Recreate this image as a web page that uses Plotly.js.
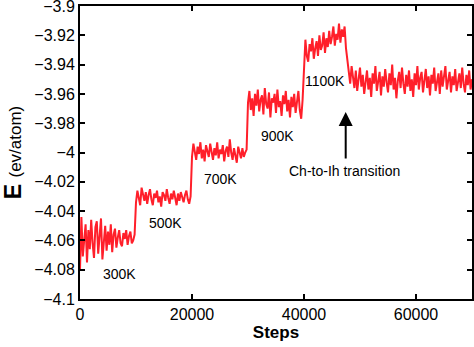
<!DOCTYPE html>
<html>
<head>
<meta charset="utf-8">
<script src="https://cdn.plot.ly/plotly-3.0.1.min.js"></script>
<style>
  html, body { margin: 0; padding: 0; background: #fff; }
  #chart { width: 474px; height: 347px; }
</style>
</head>
<body>
<div id="chart"></div>
<script>
// Energy per atom (eV/atom), one value every 250 MD steps
const sampleEvery = 250;

const e300K = [
  -4.080, -4.044, -4.071, -4.058, -4.049, -4.075, -4.053, -4.066, -4.046, -4.062,
  -4.072, -4.051, -4.047, -4.069, -4.057, -4.045, -4.073, -4.060, -4.050, -4.067,
  -4.054, -4.063, -4.049, -4.068, -4.056, -4.052, -4.065, -4.058, -4.053, -4.062,
  -4.064, -4.055, -4.059, -4.053, -4.063, -4.057, -4.054, -4.062, -4.060, -4.056
];
const e500K = [
  -4.034, -4.026, -4.031, -4.036, -4.024, -4.030, -4.033, -4.027, -4.035, -4.029,
  -4.025, -4.032, -4.036, -4.028, -4.031, -4.026, -4.034, -4.030, -4.037, -4.027,
  -4.029, -4.033, -4.025, -4.031, -4.035, -4.028, -4.032, -4.026, -4.030, -4.036,
  -4.028, -4.033, -4.027, -4.031, -4.034, -4.029, -4.026, -4.032, -4.035, -4.030
];
const e700K = [
  -4.003, -3.994, -3.999, -4.005, -3.996, -4.001, -3.993, -4.004, -3.998, -4.006,
  -3.995, -4.000, -4.003, -3.994, -3.999, -4.005, -3.997, -4.002, -3.993, -4.004,
  -3.998, -4.001, -3.995, -4.006, -3.999, -3.996, -4.003, -3.991, -4.000, -4.005,
  -3.997, -4.002, -4.007, -3.996, -4.001, -4.004, -3.997, -4.003, -4.000, -3.998
];
const e900K = [
  -3.966, -3.958, -3.971, -3.963, -3.975, -3.960, -3.968, -3.957, -3.972, -3.964,
  -3.961, -3.974, -3.956, -3.967, -3.970, -3.959, -3.976, -3.963, -3.966, -3.960,
  -3.973, -3.957, -3.969, -3.965, -3.975, -3.961, -3.967, -3.958, -3.972, -3.964,
  -3.976, -3.962, -3.969, -3.960, -3.973, -3.966, -3.958, -3.971, -3.977, -3.964
];
const e1100K = [
  -3.940, -3.923, -3.934, -3.938, -3.926, -3.931, -3.922, -3.936, -3.929, -3.924,
  -3.934, -3.920, -3.930, -3.927, -3.918, -3.932, -3.922, -3.928, -3.917, -3.926,
  -3.921, -3.914, -3.927, -3.919, -3.923, -3.912, -3.925, -3.916, -3.921, -3.914,
  -3.929, -3.938
];
const eIh = [
  -3.943, -3.953, -3.941, -3.949, -3.956, -3.944, -3.958, -3.950, -3.942, -3.955,
  -3.947, -3.960, -3.951, -3.944, -3.957, -3.949, -3.962, -3.946, -3.953, -3.941,
  -3.958, -3.950, -3.945, -3.961, -3.948, -3.955, -3.943, -3.952, -3.959, -3.946,
  -3.954, -3.940, -3.957, -3.949, -3.963, -3.951, -3.945, -3.956, -3.942, -3.953,
  -3.960, -3.947, -3.955, -3.944, -3.958, -3.950, -3.962, -3.946, -3.954, -3.941,
  -3.957, -3.949, -3.945, -3.959, -3.951, -3.943, -3.956, -3.948, -3.961, -3.947,
  -3.953, -3.942, -3.958, -3.950, -3.946, -3.960, -3.944, -3.955, -3.949, -3.941,
  -3.957, -3.952, -3.945, -3.959, -3.948, -3.954, -3.943, -3.958, -3.950, -3.946,
  -3.956, -3.942, -3.953, -3.959, -3.947, -3.954, -3.944, -3.957, -3.950
];

const energy = [].concat(e300K, e500K, e700K, e900K, e1100K, eIh);
const steps = energy.map((_, i) => i * sampleEvery);

// Axis ticks
const xTickVals = [0, 20000, 40000, 60000];
const xTickText = ["0", "20000", "40000", "60000"];
const yTickVals = [-4.1, -4.08, -4.06, -4.04, -4.02, -4, -3.98, -3.96, -3.94, -3.92, -3.9];
const yTickText = ["\u22124.1", "\u22124.08", "\u22124.06", "\u22124.04", "\u22124.02", "\u22124",
                   "\u22123.98", "\u22123.96", "\u22123.94", "\u22123.92", "\u22123.9"];

// Labels
const tempLabels = ["300K", "500K", "700K", "900K", "1100K"];
const tempLabelX = [6964, 15179, 25089, 35268, 43750];
const tempLabelY = [-4.083, -4.0481, -4.0181, -3.9887, -3.9512];
const transitionText = "Ch-to-Ih transition";
const transitionX = 47232, transitionY = -4.0126;
const arrowX = 47446, arrowTipY = -3.9724, arrowTailY = -4.0051;

const FONT = "Liberation Sans, Arial, sans-serif";

const annotations = tempLabels.map((t, i) => ({
  x: tempLabelX[i], y: tempLabelY[i], xref: "x", yref: "y",
  text: t, showarrow: false, font: {family: FONT, size: 14, color: "#000"}
}));
annotations.push({
  x: transitionX, y: transitionY, xref: "x", yref: "y",
  text: transitionText, showarrow: false, font: {family: FONT, size: 14, color: "#000"}
});
annotations.push({
  x: arrowX, y: arrowTipY, xref: "x", yref: "y",
  ax: arrowX, ay: arrowTailY, axref: "x", ayref: "y",
  text: "", showarrow: true, arrowhead: 2, arrowsize: 1.4, arrowwidth: 2, arrowcolor: "#000"
});

const trace = {
  x: steps, y: energy, type: "scatter", mode: "lines",
  line: {color: "#ff1f2a", width: 2},
  hoverinfo: "skip"
};

const axisCommon = {
  showline: true, linecolor: "#000", linewidth: 2, mirror: "ticks",
  ticks: "inside", ticklen: 5, tickwidth: 2, tickcolor: "#000",
  showgrid: false, zeroline: false, tickmode: "array",
  ticklabeloverflow: "allow",
  tickfont: {family: FONT, size: 16, color: "#000"}
};

const layout = {
  width: 474, height: 347,
  margin: {l: 80, r: 2, t: 6, b: 48},
  paper_bgcolor: "#fff", plot_bgcolor: "#fff",
  showlegend: false,
  xaxis: Object.assign({}, axisCommon, {
    range: [0, 70000], tickvals: xTickVals, ticktext: xTickText,
    title: {text: "<b>Steps</b>", font: {family: FONT, size: 17, color: "#000"}, standoff: 4}
  }),
  yaxis: Object.assign({}, axisCommon, {
    range: [-4.1, -3.9], tickvals: yTickVals, ticktext: yTickText,
    title: {text: "<b>E</b> <span style='font-size:17px'>(ev/atom)</span>",
            font: {family: FONT, size: 23, color: "#000"}, standoff: 6}
  }),
  annotations: annotations
};

Plotly.newPlot("chart", [trace], layout, {staticPlot: true, displayModeBar: false});
</script>
</body>
</html>
